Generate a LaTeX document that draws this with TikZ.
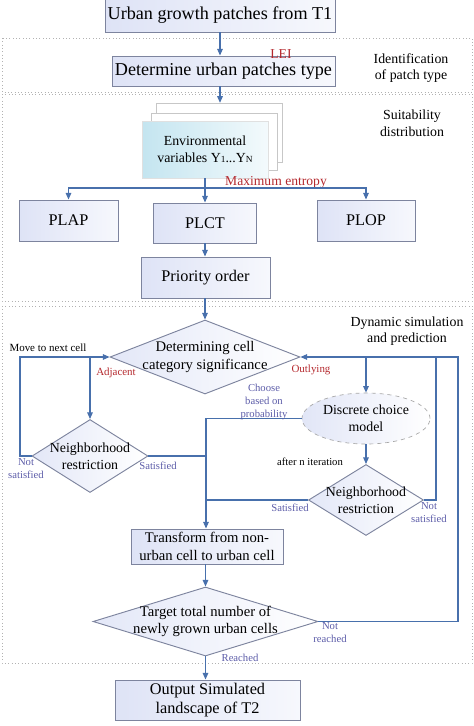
\documentclass[tikz,border=0pt]{standalone}
\usepackage{fontspec}
\setmainfont{Liberation Serif}
\usetikzlibrary{shapes.geometric,arrows.meta}
\definecolor{flowblue}{RGB}{72,112,172}
\definecolor{edgegray}{RGB}{125,132,158}
\definecolor{boxlight}{RGB}{222,227,246}
\definecolor{envcyan}{RGB}{196,229,240}
\definecolor{labred}{RGB}{180,40,45}
\definecolor{labblue}{RGB}{92,92,168}
\newcommand{\smallidx}[1]{{\fontsize{7}{8}\selectfont #1}}

\begin{document}
\begin{tikzpicture}[x=0.75pt,y=-0.75pt,
  >={Triangle[length=5pt,width=4.2pt]},
  flow/.style={draw=flowblue,line width=0.9pt},
  box/.style={draw=edgegray,line width=0.7pt,left color=boxlight,right color=boxlight!25,inner sep=0pt,align=center},
  cond/.style={diamond,draw=edgegray,line width=0.7pt,left color=boxlight!85,right color=white,inner sep=0pt},
  envbox/.style={draw=black!22,line width=0.5pt,fill=white,inner sep=0pt},
  sect/.style={draw=black!30,dotted,line width=0.5pt},
  bigfont/.style={font=\fontsize{13.6}{15.5}\selectfont},
  midfont/.style={font=\fontsize{12.2}{14.4}\selectfont},
  stdfont/.style={font=\fontsize{11}{13.3}\selectfont},
  smallfont/.style={font=\fontsize{10.4}{12.4}\selectfont},
  redlab/.style={text=labred,font=\fontsize{10.2}{12}\selectfont},
  redtag/.style={text=labred,font=\fontsize{8.2}{9.8}\selectfont},
  bluetag/.style={text=labblue,align=center,font=\fontsize{8}{9.75}\selectfont}]
  \useasboundingbox (0,0) rectangle (474,726);

  % stage frames
  \draw[sect] (2,38) rectangle (472,92);
  \draw[sect] (2,94) rectangle (472,301);
  \draw[sect] (2,306) rectangle (472,663);

  % stage 1
  \node[box,bigfont,minimum width=172.5pt,minimum height=25.5pt] (start) at (220,15) {Urban growth patches from T1};
  \node[box,bigfont,minimum width=167.25pt,minimum height=22.5pt] (ptype) at (223.5,71) {Determine urban patches type};
  \node[redlab] (lei) at (281,54) {LEI};
  \node[smallfont,align=center] (stage1) at (411,68) {Identification\\of patch type};

  % stage 2
  \node[envbox,minimum width=94.5pt,minimum height=44pt] (env3) at (219,132.5) {};
  \node[envbox,minimum width=94.5pt,minimum height=42.75pt] (env2) at (214,141.5) {};
  \node[draw=black!12,line width=0.4pt,left color=envcyan,right color=envcyan!20,inner sep=0pt,
        minimum width=94.5pt,minimum height=42.75pt,smallfont,align=center] (env) at (205,149.5)
        {Environmental\\variables Y\smallidx{1}...Y\smallidx{N}};
  \node[smallfont,align=center] (stage2) at (412,123) {Suitability\\distribution};
  \coordinate (split) at (205,188);
  \node[box,midfont,minimum width=74.25pt,minimum height=30.75pt] (plap) at (68.5,220.5) {PLAP};
  \node[box,midfont,minimum width=77.25pt,minimum height=30pt] (plct) at (205,223) {PLCT};
  \node[box,midfont,minimum width=73.5pt,minimum height=30.75pt] (plop) at (366,220.5) {PLOP};
  \node[redlab] (maxent) at (276,182) {Maximum entropy};
  \node[box,midfont,minimum width=96.75pt,minimum height=30.75pt] (prior) at (205.5,277.5) {Priority order};

  % stage 3
  \node[smallfont,align=center] (stage3) at (407,331) {Dynamic simulation\\and prediction};
  \node[cond,minimum width=142.5pt,minimum height=55.5pt] (sig) at (205,357) {};
  \node[stdfont,align=center] (sigtext) at (sig) {Determining cell\\category significance};
  \node[cond,minimum width=87pt,minimum height=54.75pt] (nbA) at (90,456) {};
  \node[smallfont,align=center] (nbAtext) at (nbA) {Neighborhood\\restriction};
  \node[ellipse,draw=black!35,dashed,line width=0.5pt,left color=boxlight!90,right color=white,inner sep=0pt,
        minimum width=96pt,minimum height=38.25pt,smallfont,align=center] (dcm) at (366,418.5) {Discrete choice\\model};
  \node[cond,minimum width=86.25pt,minimum height=53.25pt] (nbB) at (366,500) {};
  \node[smallfont,align=center] (nbBtext) at (nbB) {Neighborhood\\restriction};
  \node[box,stdfont,minimum width=114pt,minimum height=26.25pt] (trans) at (207,546.5) {Transform from non-\\urban cell to urban cell};
  \node[cond,minimum width=168.75pt,minimum height=51.75pt] (goal) at (205.5,621.5) {};
  \node[stdfont,align=center] (goaltext) at (goal) {Target total number of\\newly grown urban cells};
  \node[box,midfont,minimum width=138.75pt,minimum height=30pt] (out) at (207.5,700) {Output Simulated\\landscape of T2};

  \coordinate (loopL) at (20,357);
  \coordinate (loopR) at (458,357);
  \coordinate (loopM) at (436,357);
  \coordinate (trunk) at (206,421);

  % connectors
  \draw[flow,->] (start.south) -- (start |- ptype.north);
  \draw[flow,->] (ptype.south -| start) -- (start |- env3.north);
  \draw[flow] (env.south) -- (split);
  \draw[flow,->] (split) -| (plap.north);
  \draw[flow,->] (split) -- (plct.north);
  \draw[flow,->] (split) -| (plop.north);
  \draw[flow,->] (plct.south) -- (prior.north -| plct);
  \draw[flow,->] (prior.south -| sig) -- (sig.north);
  \draw[flow,->] (nbA.west) -- (nbA.west -| loopL) -- (loopL) -- (sig.west);
  \draw[flow,->] (nbA |- sig.west) -- (nbA.north);
  \draw[flow] (nbA.east) -- (nbA.east -| trunk);
  \draw[flow,->] (dcm.west) -- (dcm.west -| trunk) -- (trans.north -| trunk);
  \draw[flow] (nbB.west) -- (nbB.west -| trunk);
  \draw[flow,->] (dcm |- sig.east) -- (dcm.north);
  \draw[flow,->] (dcm.south) -- (nbB.north);
  \draw[flow] (nbB.east) -- (nbB.east -| loopM) -- (loopM);
  \draw[flow,->] (goal.east) -- (goal.east -| loopR) -- (loopR) -- (sig.east);
  \draw[flow,->] (trans.south -| goal) -- (goal.north);
  \draw[flow,->] (goal.south) -- (out.north -| goal);

  % branch labels
  \node[font=\fontsize{8.2}{9.8}\selectfont] (nextcell) at (48,348) {Move to next cell};
  \node[redtag] (adj) at (116,373) {Adjacent};
  \node[redtag] (outl) at (311,370) {Outlying};
  \node[bluetag] (choose) at (264,402) {Choose\\based on\\probability};
  \node[bluetag] (notA) at (26,469) {Not\\satisfied};
  \node[bluetag] (satA) at (158,466) {Satisfied};
  \node[font=\fontsize{8}{9.75}\selectfont] (iter) at (310,462) {after n iteration};
  \node[bluetag] (satB) at (290,508) {Satisfied};
  \node[bluetag] (notB) at (429,513) {Not\\satisfied};
  \node[bluetag] (notreach) at (330,633) {Not\\reached};
  \node[bluetag] (reach) at (240,658) {Reached};
\end{tikzpicture}
\end{document}
